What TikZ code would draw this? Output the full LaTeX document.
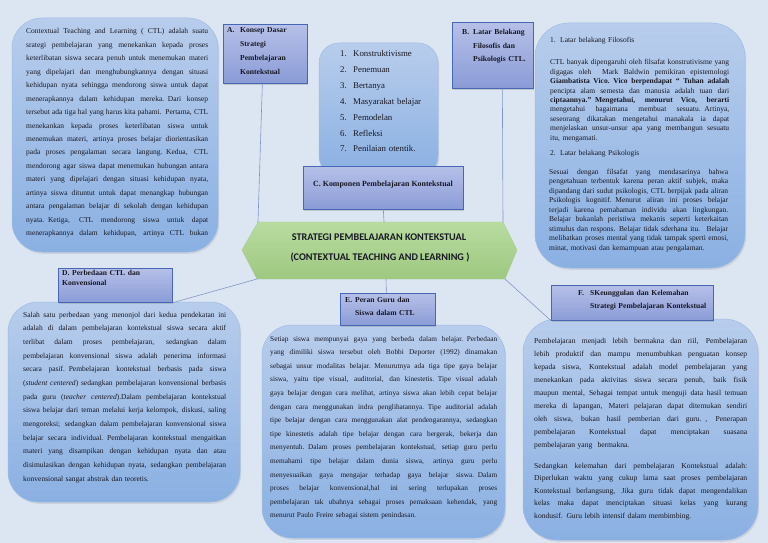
\documentclass[tikz,border=0pt]{standalone}
\usepackage{fontspec}
\setmainfont{Liberation Serif}
\newfontfamily\hexfont{Carlito}
\usetikzlibrary{shadows,calc}
\definecolor{bgc}{RGB}{220,229,242}
\definecolor{blobtop}{RGB}{184,205,236}
\definecolor{blobbot}{RGB}{138,176,226}
\definecolor{blobedge}{RGB}{158,188,228}
\definecolor{boxtop}{RGB}{182,192,232}
\definecolor{boxbot}{RGB}{138,155,214}
\definecolor{boxedge}{RGB}{72,102,182}
\definecolor{hextop}{RGB}{184,220,160}
\definecolor{hexbot}{RGB}{158,200,128}
\definecolor{linec}{RGB}{128,150,196}
\definecolor{txt}{RGB}{24,24,36}
\newcommand\JL[1]{\makebox[\linewidth][s]{\spaceskip=0.25em plus 2em minus 0.1em\relax #1}\\}
\begin{document}
\begin{tikzpicture}[x=1pt,y=-1pt,
  blob/.style={rounded corners=#1, top color=blobtop, bottom color=blobbot, draw=blobedge, line width=0.5pt,
    drop shadow={opacity=0.18, shadow xshift=1.2pt, shadow yshift=-1.8pt}},
  lbox/.style={draw=boxedge, line width=0.7pt, top color=boxtop, bottom color=boxbot, inner sep=0pt, anchor=north west,
    drop shadow={opacity=0.3, shadow xshift=1pt, shadow yshift=-1.5pt}},
  hexfill/.style={top color=hextop, bottom color=hexbot, draw=hexbot!90!white, line width=0.4pt},
  conn/.style={draw=linec, line width=0.6pt},
  bodytxt/.style={text=txt, inner sep=0pt, anchor=base west, align=left},
  lbl/.style={text=txt, inner sep=0pt, anchor=base west, align=left, font=\fontsize{7.6}{14}\selectfont\bfseries},
]
\useasboundingbox (0,0) rectangle (768,543);
\fill[bgc] (0,0) rectangle (768,543);

% hexagon corner coordinates
\coordinate (htl) at (258,222);
\coordinate (htm) at (384,222);
\coordinate (htr) at (503,222);
\coordinate (hr) at (517,250);
\coordinate (hbr) at (505,279);
\coordinate (hbm) at (386,279);
\coordinate (hbl) at (257,279);
\coordinate (hl) at (242,250);

% blobs
\path[blob=30pt] (12,18) rectangle (218,252);
\path[blob=34pt] (535,23) rectangle (745,268);
\path[blob=20pt] (319,43) rectangle (438,176);
\path[blob=30pt] (8,302) rectangle (240,502);
\path[blob=30pt] (262,325) rectangle (505,538);
\path[blob=34pt] (523,319) rectangle (758,540);

% hexagon
\path[hexfill] (htl) -- (htr) -- (hr) -- (hbr) -- (hbl) -- (hl) -- cycle;

% label boxes
\node[lbox, minimum width=84pt, minimum height=59pt] (A) at (223,24) {};
\node[lbox, minimum width=81pt, minimum height=66pt] (B) at (452,22) {};
\node[lbox, minimum width=160pt, minimum height=43pt] (C) at (303,166) {};
\node[lbox, minimum width=114pt, minimum height=34pt] (D) at (58,268) {};
\node[lbox, minimum width=95pt, minimum height=32pt] (E) at (340,293) {};
\node[lbox, minimum width=162pt, minimum height=35pt] (F) at (551,285) {};

% connectors
\draw[conn] ([xshift=-3pt]A.south) -- (htl);
\draw[conn] ([xshift=9.5pt]B.south) -- (htr);
\draw[conn] (C.south) -- (htm);
\draw[conn] (D.south east) -- (hbl);
\draw[conn] (hbm) -- ([xshift=-1.5pt]E.north);
\draw[conn] (hbr) -- (F.south west);

% label texts
\node[lbl, text width=80pt] (At) at (227,32.5) {\makebox[13pt][l]{A.}Konsep Dasar\\\hspace*{13pt}Strategi\\\hspace*{13pt}Pembelajaran\\\hspace*{13pt}Kontekstual};
\node[lbl, text width=78pt, font=\fontsize{7.6}{13.5}\selectfont\bfseries] (Bt) at (462,34.5) {\makebox[11pt][l]{B.}Latar Belakang\\\hspace*{11pt}Filosofis dan\\\hspace*{11pt}Psikologis CTL.};
\node[lbl, anchor=base, font=\fontsize{7.9}{10}\selectfont\bfseries] (Ct) at (383,186.5) {C. Komponen Pembelajaran Kontekstual};
\node[lbl, text width=110pt, font=\fontsize{7.6}{10}\selectfont\bfseries] (Dt) at (62,275.5) {D. Perbedaan CTL dan\\Konvensional};
\node[lbl, text width=90pt, font=\fontsize{7.6}{13}\selectfont\bfseries] (Et) at (345,302.5) {\makebox[10pt][l]{E.}Peran Guru dan\\\hspace*{10pt}Siswa dalam CTL};
\node[lbl, text width=140pt, font=\fontsize{7.6}{13.4}\selectfont\bfseries] (Ft) at (578,295.5) {\makebox[12pt][l]{F.}SKeunggulan dan Kelemahan\\\hspace*{12pt}Strategi Pembelajaran Kontekstual};

% hexagon text
\node[text=txt, inner sep=0pt, anchor=base, font=\hexfont\bfseries\fontsize{10.2}{12}\selectfont] (hexA) at (379,240) {STRATEGI PEMBELAJARAN KONTEKSTUAL};
\node[text=txt, inner sep=0pt, anchor=base, font=\hexfont\bfseries\fontsize{10.2}{12}\selectfont] (hexB) at (380,260) {(CONTEXTUAL TEACHING AND LEARNING )};

% list
\node[bodytxt, text width=100pt, font=\fontsize{8.8}{15.9}\selectfont] (list) at (340,56.5) {%
\makebox[13pt][l]{1.}Konstruktivisme\\
\makebox[13pt][l]{2.}Penemuan\\
\makebox[13pt][l]{3.}Bertanya\\
\makebox[13pt][l]{4.}Masyarakat belajar\\
\makebox[13pt][l]{5.}Pemodelan\\
\makebox[13pt][l]{6.}Refleksi\\
\makebox[13pt][l]{7.}Penilaian otentik.};

% top-left text
\node[bodytxt, text width=182pt, font=\fontsize{7.5}{13.44}\selectfont] (tlt) at (26,34) {%
\JL{Contextual Teaching and Learning ( CTL) adalah suatu}
\JL{srategi pembelajaran yang menekankan kepada proses}
\JL{keterlibatan siswa secara penuh untuk menemukan materi}
\JL{yang dipelajari dan menghubungkannya dengan situasi}
\JL{kehidupan nyata sehingga mendorong siswa untuk dapat}
\JL{menerapkannya dalam kehidupan mereka. Dari konsep}
\JL{tersebut ada tiga hal yang harus kita pahami. Pertama, CTL}
\JL{menekankan kepada proses keterlibatan siswa untuk}
\JL{menemukan materi, artinya proses belajar diorientasikan}
\JL{pada proses pengalaman secara langung. Kedua, CTL}
\JL{mendorong agar siswa dapat menemukan hubungan antara}
\JL{materi yang dipelajari dengan situasi kehidupan nyata,}
\JL{artinya siswa dituntut untuk dapat menangkap hubungan}
\JL{antara pengalaman belajar di sekolah dengan kehidupan}
\JL{nyata. Ketiga, CTL mendorong siswa untuk dapat}
\JL{menerapkannya dalam kehidupan, artinya CTL bukan}};

% top-right texts
\node[bodytxt, text width=179pt, font=\fontsize{7.5}{9.4}\selectfont] (trh1) at (550,42.5) {\makebox[10pt][l]{1.}Latar belakang Filosofis};
\node[bodytxt, text width=179pt, font=\fontsize{7.5}{9.375}\selectfont] (trp1) at (550,65) {%
\JL{CTL banyak dipengaruhi oleh filsafat konstrutivisme yang}
\JL{digagas oleh \ Mark Baldwin pemikiran epistemologi}
\JL{\textbf{Giambatista Vico. Vico berpendapat “ Tuhan adalah}}
\JL{pencipta alam semesta dan manusia adalah tuan dari}
\JL{\textbf{ciptaannya.” Mengetahui, menurut Vico, berarti}}
\JL{mengetahui bagaimana membuat sesuatu. Artinya,}
\JL{seseorang dikatakan mengetahui manakala ia dapat}
\JL{menjelaskan unsur-unsur apa yang membangun sesuatu}
itu, mengamati.};
\node[bodytxt, text width=179pt, font=\fontsize{7.5}{9.4}\selectfont] (trh2) at (550,155.5) {\makebox[10pt][l]{2.}Latar belakang Psikologis};
\node[bodytxt, text width=179pt, font=\fontsize{7.5}{9.55}\selectfont] (trp2) at (549,174) {%
\JL{Sesuai dengan filsafat yang mendasarinya bahwa}
\JL{pengetahuan terbentuk karena peran aktif subjek, maka}
\JL{dipandang dari sudut psikologis, CTL berpijak pada aliran}
\JL{Psikologis kognitif. Menurut aliran ini proses belajar}
\JL{terjadi karena pemahaman individu akan lingkungan.}
\JL{Belajar bukanlah peristiwa mekanis seperti keterkaitan}
\JL{stimulus dan respons. Belajar tidak sderhana itu. \ Belajar}
\JL{melibatkan proses mental yang tidak tampak sperti emosi,}
minat, motivasi dan kemampuan atau pengalaman.};

% bottom-left text
\node[bodytxt, text width=203pt, font=\fontsize{7.5}{13.67}\selectfont] (blt) at (23,317) {%
\JL{Salah satu perbedaan yang menonjol dari kedua pendekatan ini}
\JL{adalah di dalam pembelajaran kontekstual siswa secara aktif}
\JL{terlibat dalam proses pembelajaran, sedangkan dalam}
\JL{pembelajaran konvensional siswa adalah penerima informasi}
\JL{secara pasif. Pembelajaran kontekstual berbasis pada siswa}
\JL{(\textit{student centered}) sedangkan pembelajaran konvensional berbasis}
\JL{pada guru (\textit{teacher centered}).Dalam pembelajaran kontekstual}
\JL{siswa belajar dari teman melalui kerja kelompok, diskusi, saling}
\JL{mengoreksi; sedangkan dalam pembelajaran konvensional siswa}
\JL{belajar secara individual. Pembelajaran kontekstual mengaitkan}
\JL{materi yang disampikan dengan kehidupan nyata dan atau}
\JL{disimulasikan dengan kehidupan nyata, sedangkan pembelajaran}
konvensional sangat abstrak dan teoretis.};

% bottom-middle text
\node[bodytxt, text width=227pt, font=\fontsize{7.3}{13.6}\selectfont] (bmt) at (270,341) {%
\JL{Setiap siswa mempunyai gaya yang berbeda dalam belajar. Perbedaan}
\JL{yang dimiliki siswa tersebut oleh Bobbi Deporter (1992) dinamakan}
\JL{sebagai unsur modalitas belajar. Menurutnya ada tiga tipe gaya belajar}
\JL{siswa, yaitu tipe visual, auditorial, dan kinestetis. Tipe visual adalah}
\JL{gaya belajar dengan cara melihat, artinya siswa akan lebih cepat belajar}
\JL{dengan cara menggunakan indra penglihatannya. Tipe auditorial adalah}
\JL{tipe belajar dengan cara menggunakan alat pendengarannya, sedangkan}
\JL{tipe kinestetis adalah tipe belajar dengan cara bergerak, bekerja dan}
\JL{menyentuh. Dalam proses pembelajaran kontekstual, setiap guru perlu}
\JL{memahami tipe belajar dalam dunia siswa, artinya guru perlu}
\JL{menyesuaikan gaya mengajar terhadap gaya belajar siswa. Dalam}
\JL{proses belajar konvensional,hal ini sering terlupakan proses}
\JL{pembelajaran tak ubahnya sebagai proses pemaksaan kehendak, yang}
menurut Paulo Freire sebagai sistem penindasan.};

% bottom-right text
\node[bodytxt, text width=213pt, font=\fontsize{7.6}{13.1}\selectfont] (brt1) at (534,343) {%
\JL{Pembelajaran menjadi lebih bermakna dan riil, Pembelajaran}
\JL{lebih produktif dan mampu menumbuhkan penguatan konsep}
\JL{kepada siswa, Kontekstual adalah model pembelajaran yang}
\JL{menekankan pada aktivitas siswa secara penuh, baik fisik}
\JL{maupun mental, Sebagai tempat untuk menguji data hasil temuan}
\JL{mereka di lapangan, Materi pelajaran dapat ditemukan sendiri}
\JL{oleh siswa, bukan hasil pemberian dari guru. , Penerapan}
\JL{pembelajaran Kontekstual dapat menciptakan suasana}
pembelajaran yang \ bermakna.};
\node[bodytxt, text width=213pt, font=\fontsize{7.6}{12.6}\selectfont] (brt2) at (534,468) {%
\JL{Sedangkan kelemahan dari pembelajaran Kontekstual adalah:}
\JL{Diperlukan waktu yang cukup lama saat proses pembelajaran}
\JL{Kontekstual berlangsung, Jika guru tidak dapat mengendalikan}
\JL{kelas maka dapat menciptakan situasi kelas yang kurang}
kondusif. Guru lebih intensif dalam membimbing.};
\end{tikzpicture}
\end{document}
